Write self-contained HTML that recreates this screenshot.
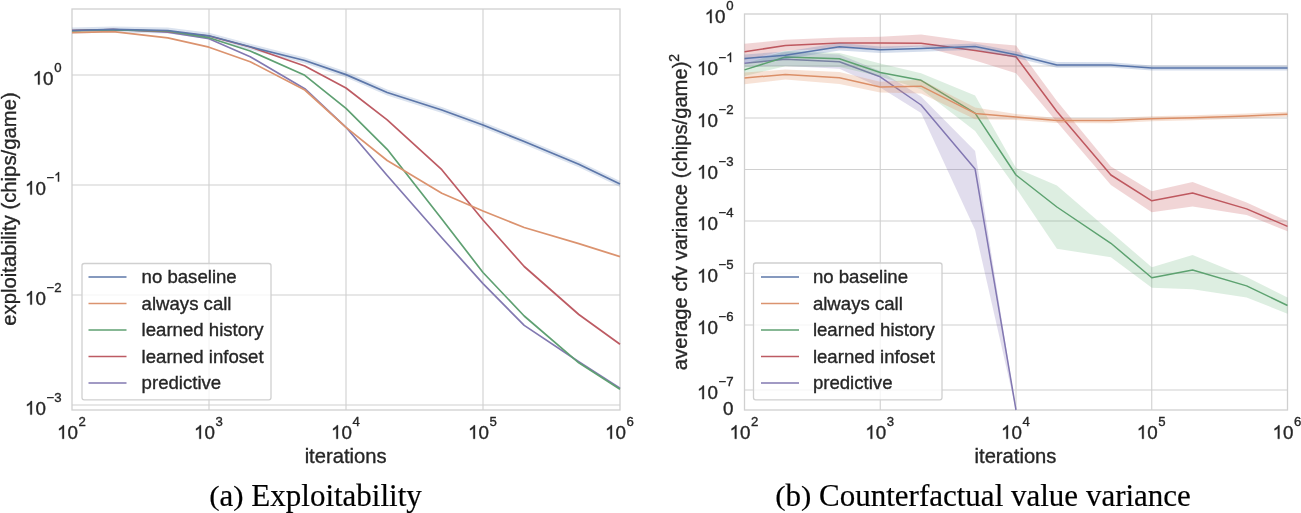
<!DOCTYPE html>
<html><head><meta charset="utf-8"><style>
html,body{margin:0;padding:0;background:#fff;}
body{width:1301px;height:513px;overflow:hidden;position:relative;}
svg{position:absolute;left:0;top:0;filter:blur(0.4px);}
text{font-family:"Liberation Sans",sans-serif;fill:#262626;stroke:#262626;stroke-width:0.35px;}
.serif{font-family:"Liberation Serif",serif;fill:#000;stroke:#000;stroke-width:0.2px;}
</style></head><body>
<svg width="1301" height="513" viewBox="0 0 1301 513">

<g id="left">
<g stroke="#d0d0d0" stroke-width="1.1"><line x1="209.0" y1="9" x2="209.0" y2="410"/><line x1="346.0" y1="9" x2="346.0" y2="410"/><line x1="483.0" y1="9" x2="483.0" y2="410"/><line x1="72" y1="75.0" x2="620" y2="75.0"/><line x1="72" y1="185.0" x2="620" y2="185.0"/><line x1="72" y1="295.0" x2="620" y2="295.0"/><line x1="72" y1="405.0" x2="620" y2="405.0"/></g>
<rect x="72" y="9" width="548" height="401" fill="none" stroke="#d0d0d0" stroke-width="1.3"/>
<polygon points="72.0,27.5 113.2,26.4 167.8,27.5 209.0,32.8 250.2,43.8 304.8,57.5 346.0,71.6 387.2,89.5 441.8,107.0 483.0,122.0 524.2,138.5 578.8,161.3 620.0,181.0 620.0,187.0 578.8,167.3 524.2,144.5 483.0,128.0 441.8,113.0 387.2,95.5 346.0,77.6 304.8,63.5 250.2,49.8 209.0,38.8 167.8,33.5 113.2,32.4 72.0,33.5" fill="#4c72b0" fill-opacity="0.2"/>
<polyline points="72.0,30.5 113.2,29.5 167.8,32.2 209.0,38.7 250.2,56.7 304.8,88.7 346.0,127.3 387.2,175.5 441.8,237.7 483.0,283.6 524.2,325.4 578.8,361.8 620.0,388.2" fill="none" stroke="#8279b1" stroke-width="1.7" stroke-linejoin="round"/>
<polyline points="72.0,30.5 113.2,29.5 167.8,31.5 209.0,36.0 250.2,47.0 304.8,66.0 346.0,88.0 387.2,119.8 441.8,169.7 483.0,220.0 524.2,266.5 578.8,314.5 620.0,344.2" fill="none" stroke="#bd5b63" stroke-width="1.7" stroke-linejoin="round"/>
<polyline points="72.0,30.8 113.2,30.0 167.8,31.0 209.0,37.7 250.2,51.0 304.8,75.3 346.0,108.3 387.2,149.3 441.8,219.0 483.0,272.5 524.2,316.0 578.8,362.8 620.0,389.2" fill="none" stroke="#5fa072" stroke-width="1.7" stroke-linejoin="round"/>
<polyline points="72.0,32.7 113.2,31.7 167.8,37.9 209.0,47.2 250.2,61.7 304.8,90.0 346.0,127.3 387.2,160.5 441.8,193.2 483.0,211.0 524.2,227.5 578.8,243.6 620.0,256.6" fill="none" stroke="#db936f" stroke-width="1.7" stroke-linejoin="round"/>
<polyline points="72.0,30.5 113.2,29.4 167.8,30.5 209.0,35.8 250.2,46.8 304.8,60.5 346.0,74.6 387.2,92.5 441.8,110.0 483.0,125.0 524.2,141.5 578.8,164.3 620.0,184.0" fill="none" stroke="#5d77a9" stroke-width="1.7" stroke-linejoin="round"/>
<path d="M763 0H583V1147Q518 1085 412.5 1023Q307 961 223 930V1104Q374 1175 487 1276Q600 1377 647 1472H763V0Z" transform="translate(32.65,84.60) scale(0.00918,-0.00918)" fill="#262626" stroke="#262626" stroke-width="38.1"/><text x="43.10" y="84.6" font-size="18.8">0</text><text x="54.16" y="71.6" font-size="13.2">0</text>
<path d="M763 0H583V1147Q518 1085 412.5 1023Q307 961 223 930V1104Q374 1175 487 1276Q600 1377 647 1472H763V0Z" transform="translate(24.94,194.60) scale(0.00918,-0.00918)" fill="#262626" stroke="#262626" stroke-width="38.1"/><text x="35.40" y="194.6" font-size="18.8">0</text><text x="46.45" y="181.6" font-size="13.2">−</text><path d="M763 0H583V1147Q518 1085 412.5 1023Q307 961 223 930V1104Q374 1175 487 1276Q600 1377 647 1472H763V0Z" transform="translate(54.16,181.60) scale(0.00645,-0.00645)" fill="#262626" stroke="#262626" stroke-width="54.3"/>
<path d="M763 0H583V1147Q518 1085 412.5 1023Q307 961 223 930V1104Q374 1175 487 1276Q600 1377 647 1472H763V0Z" transform="translate(24.94,304.60) scale(0.00918,-0.00918)" fill="#262626" stroke="#262626" stroke-width="38.1"/><text x="35.40" y="304.6" font-size="18.8">0</text><text x="46.45" y="291.6" font-size="13.2">−2</text>
<path d="M763 0H583V1147Q518 1085 412.5 1023Q307 961 223 930V1104Q374 1175 487 1276Q600 1377 647 1472H763V0Z" transform="translate(24.94,414.60) scale(0.00918,-0.00918)" fill="#262626" stroke="#262626" stroke-width="38.1"/><text x="35.40" y="414.6" font-size="18.8">0</text><text x="46.45" y="401.6" font-size="13.2">−3</text>
<path d="M763 0H583V1147Q518 1085 412.5 1023Q307 961 223 930V1104Q374 1175 487 1276Q600 1377 647 1472H763V0Z" transform="translate(56.98,438.80) scale(0.00918,-0.00918)" fill="#262626" stroke="#262626" stroke-width="38.1"/><text x="67.43" y="438.8" font-size="18.8">0</text><text x="78.48" y="425.8" font-size="13.2">2</text>
<path d="M763 0H583V1147Q518 1085 412.5 1023Q307 961 223 930V1104Q374 1175 487 1276Q600 1377 647 1472H763V0Z" transform="translate(193.98,438.80) scale(0.00918,-0.00918)" fill="#262626" stroke="#262626" stroke-width="38.1"/><text x="204.43" y="438.8" font-size="18.8">0</text><text x="215.48" y="425.8" font-size="13.2">3</text>
<path d="M763 0H583V1147Q518 1085 412.5 1023Q307 961 223 930V1104Q374 1175 487 1276Q600 1377 647 1472H763V0Z" transform="translate(330.98,438.80) scale(0.00918,-0.00918)" fill="#262626" stroke="#262626" stroke-width="38.1"/><text x="341.43" y="438.8" font-size="18.8">0</text><text x="352.48" y="425.8" font-size="13.2">4</text>
<path d="M763 0H583V1147Q518 1085 412.5 1023Q307 961 223 930V1104Q374 1175 487 1276Q600 1377 647 1472H763V0Z" transform="translate(467.98,438.80) scale(0.00918,-0.00918)" fill="#262626" stroke="#262626" stroke-width="38.1"/><text x="478.43" y="438.8" font-size="18.8">0</text><text x="489.48" y="425.8" font-size="13.2">5</text>
<path d="M763 0H583V1147Q518 1085 412.5 1023Q307 961 223 930V1104Q374 1175 487 1276Q600 1377 647 1472H763V0Z" transform="translate(604.98,438.80) scale(0.00918,-0.00918)" fill="#262626" stroke="#262626" stroke-width="38.1"/><text x="615.43" y="438.8" font-size="18.8">0</text><text x="626.48" y="425.8" font-size="13.2">6</text>
<text x="345.6" y="463.2" font-size="20.2" text-anchor="middle">iterations</text>
<text transform="translate(15.9,209) rotate(-90)" font-size="20.3" text-anchor="middle">exploitability (chips/game)</text>
</g>
<rect x="82.0" y="263.5" width="189.0" height="136.3" rx="2.2" ry="2.2" fill="#fff" fill-opacity="0.8" stroke="#d0d0d0" stroke-width="1.3"/><line x1="88.5" y1="277.0" x2="126.5" y2="277.0" stroke="#5d77a9" stroke-width="1.6"/><text x="141.6" y="283.1" font-size="18.6">no baseline</text><line x1="88.5" y1="303.5" x2="126.5" y2="303.5" stroke="#db936f" stroke-width="1.6"/><text x="141.6" y="309.6" font-size="18.6">always call</text><line x1="88.5" y1="330.0" x2="126.5" y2="330.0" stroke="#5fa072" stroke-width="1.6"/><text x="141.6" y="336.1" font-size="18.6">learned history</text><line x1="88.5" y1="356.5" x2="126.5" y2="356.5" stroke="#bd5b63" stroke-width="1.6"/><text x="141.6" y="362.6" font-size="18.6">learned infoset</text><line x1="88.5" y1="383.0" x2="126.5" y2="383.0" stroke="#8279b1" stroke-width="1.6"/><text x="141.6" y="389.1" font-size="18.6">predictive</text>
<g id="right">
<g stroke="#d0d0d0" stroke-width="1.1"><line x1="880.25" y1="14" x2="880.25" y2="410"/><line x1="1016.00" y1="14" x2="1016.00" y2="410"/><line x1="1151.75" y1="14" x2="1151.75" y2="410"/><line x1="744.5" y1="66.0" x2="1287.5" y2="66.0"/><line x1="744.5" y1="118.0" x2="1287.5" y2="118.0"/><line x1="744.5" y1="169.5" x2="1287.5" y2="169.5"/><line x1="744.5" y1="221.0" x2="1287.5" y2="221.0"/><line x1="744.5" y1="273.3" x2="1287.5" y2="273.3"/><line x1="744.5" y1="325.0" x2="1287.5" y2="325.0"/><line x1="744.5" y1="390.0" x2="1287.5" y2="390.0"/></g>
<rect x="744.5" y="14" width="543" height="396" fill="none" stroke="#d0d0d0" stroke-width="1.3"/>
<polyline points="744.5,63.2 785.4,59.3 839.4,61.8 880.2,76.8 921.1,105.0 975.1,169.0 1016.0,410.0" fill="none" stroke="#8279b1" stroke-width="1.5" stroke-linejoin="round"/>
<polygon points="744.5,59.0 785.4,52.0 839.4,54.6 880.2,71.0 921.1,96.5 975.1,151.0 1016.0,410.0 1016.0,410.0 975.1,230.0 921.1,113.0 880.2,87.5 839.4,68.7 785.4,66.0 744.5,67.0" fill="#8172b3" fill-opacity="0.24"/>
<polyline points="744.5,51.8 785.4,45.4 839.4,42.9 880.2,43.0 921.1,43.2 975.1,50.6 1016.0,56.8 1056.9,111.5 1110.9,175.0 1151.8,200.8 1192.6,193.0 1246.6,208.9 1287.5,226.4" fill="none" stroke="#bd5b63" stroke-width="1.5" stroke-linejoin="round"/>
<polygon points="744.5,43.7 785.4,39.8 839.4,37.5 880.2,36.7 921.1,34.6 975.1,42.0 1016.0,45.4 1056.9,101.0 1110.9,166.4 1151.8,191.2 1192.6,182.0 1246.6,202.5 1287.5,221.0 1287.5,231.2 1246.6,215.0 1192.6,206.5 1151.8,212.3 1110.9,185.0 1056.9,122.0 1016.0,73.2 975.1,60.4 921.1,46.4 880.2,48.4 839.4,48.5 785.4,50.7 744.5,60.1" fill="#c44e52" fill-opacity="0.24"/>
<polyline points="744.5,69.9 785.4,57.0 839.4,58.8 880.2,72.5 921.1,80.3 975.1,113.1 1016.0,175.0 1056.9,207.0 1110.9,243.3 1151.8,277.7 1192.6,270.0 1246.6,285.9 1287.5,305.5" fill="none" stroke="#5fa072" stroke-width="1.5" stroke-linejoin="round"/>
<polygon points="744.5,64.0 785.4,50.7 839.4,53.0 880.2,63.6 921.1,73.2 975.1,95.5 1016.0,168.0 1056.9,185.5 1110.9,231.9 1151.8,267.3 1192.6,255.0 1246.6,276.9 1287.5,297.4 1287.5,313.7 1246.6,297.4 1192.6,289.2 1151.8,287.8 1110.9,257.2 1056.9,248.8 1016.0,188.0 975.1,131.0 921.1,89.3 880.2,76.5 839.4,67.0 785.4,66.3 744.5,76.0" fill="#55a868" fill-opacity="0.2"/>
<polyline points="744.5,78.0 785.4,74.4 839.4,77.8 880.2,87.0 921.1,86.2 975.1,113.4 1016.0,117.0 1056.9,120.5 1110.9,120.6 1151.8,118.8 1192.6,117.7 1246.6,115.9 1287.5,114.2" fill="none" stroke="#db936f" stroke-width="1.5" stroke-linejoin="round"/>
<polygon points="744.5,72.6 785.4,69.5 839.4,72.0 880.2,81.8 921.1,79.7 975.1,107.5 1016.0,114.0 1056.9,118.0 1110.9,118.0 1151.8,116.3 1192.6,115.2 1246.6,113.4 1287.5,111.7 1287.5,116.7 1246.6,118.4 1192.6,120.2 1151.8,121.3 1110.9,123.2 1056.9,123.0 1016.0,120.0 975.1,119.3 921.1,93.6 880.2,92.5 839.4,84.0 785.4,79.6 744.5,84.3" fill="#dd8452" fill-opacity="0.24"/>
<polyline points="744.5,58.5 785.4,55.3 839.4,46.8 880.2,49.7 921.1,48.6 975.1,46.6 1016.0,54.8 1056.9,64.9 1110.9,64.9 1151.8,68.0 1192.6,68.0 1246.6,68.0 1287.5,68.0" fill="none" stroke="#5d77a9" stroke-width="1.5" stroke-linejoin="round"/>
<polygon points="744.5,54.5 785.4,51.5 839.4,43.0 880.2,46.5 921.1,45.5 975.1,43.5 1016.0,51.5 1056.9,62.0 1110.9,62.3 1151.8,65.5 1192.6,65.5 1246.6,65.5 1287.5,65.5 1287.5,70.5 1246.6,70.5 1192.6,70.5 1151.8,70.5 1110.9,67.5 1056.9,67.8 1016.0,58.0 975.1,49.7 921.1,51.7 880.2,53.0 839.4,50.5 785.4,59.0 744.5,62.5" fill="#4c72b0" fill-opacity="0.24"/>
<path d="M763 0H583V1147Q518 1085 412.5 1023Q307 961 223 930V1104Q374 1175 487 1276Q600 1377 647 1472H763V0Z" transform="translate(704.65,23.10) scale(0.00918,-0.00918)" fill="#262626" stroke="#262626" stroke-width="38.1"/><text x="715.10" y="23.1" font-size="18.8">0</text><text x="726.16" y="10.1" font-size="13.2">0</text>
<path d="M763 0H583V1147Q518 1085 412.5 1023Q307 961 223 930V1104Q374 1175 487 1276Q600 1377 647 1472H763V0Z" transform="translate(696.94,75.10) scale(0.00918,-0.00918)" fill="#262626" stroke="#262626" stroke-width="38.1"/><text x="707.40" y="75.1" font-size="18.8">0</text><text x="718.45" y="62.1" font-size="13.2">−</text><path d="M763 0H583V1147Q518 1085 412.5 1023Q307 961 223 930V1104Q374 1175 487 1276Q600 1377 647 1472H763V0Z" transform="translate(726.16,62.10) scale(0.00645,-0.00645)" fill="#262626" stroke="#262626" stroke-width="54.3"/>
<path d="M763 0H583V1147Q518 1085 412.5 1023Q307 961 223 930V1104Q374 1175 487 1276Q600 1377 647 1472H763V0Z" transform="translate(696.94,127.10) scale(0.00918,-0.00918)" fill="#262626" stroke="#262626" stroke-width="38.1"/><text x="707.40" y="127.1" font-size="18.8">0</text><text x="718.45" y="114.1" font-size="13.2">−2</text>
<path d="M763 0H583V1147Q518 1085 412.5 1023Q307 961 223 930V1104Q374 1175 487 1276Q600 1377 647 1472H763V0Z" transform="translate(696.94,178.60) scale(0.00918,-0.00918)" fill="#262626" stroke="#262626" stroke-width="38.1"/><text x="707.40" y="178.6" font-size="18.8">0</text><text x="718.45" y="165.6" font-size="13.2">−3</text>
<path d="M763 0H583V1147Q518 1085 412.5 1023Q307 961 223 930V1104Q374 1175 487 1276Q600 1377 647 1472H763V0Z" transform="translate(696.94,230.10) scale(0.00918,-0.00918)" fill="#262626" stroke="#262626" stroke-width="38.1"/><text x="707.40" y="230.1" font-size="18.8">0</text><text x="718.45" y="217.1" font-size="13.2">−4</text>
<path d="M763 0H583V1147Q518 1085 412.5 1023Q307 961 223 930V1104Q374 1175 487 1276Q600 1377 647 1472H763V0Z" transform="translate(696.94,282.40) scale(0.00918,-0.00918)" fill="#262626" stroke="#262626" stroke-width="38.1"/><text x="707.40" y="282.4" font-size="18.8">0</text><text x="718.45" y="269.4" font-size="13.2">−5</text>
<path d="M763 0H583V1147Q518 1085 412.5 1023Q307 961 223 930V1104Q374 1175 487 1276Q600 1377 647 1472H763V0Z" transform="translate(696.94,334.10) scale(0.00918,-0.00918)" fill="#262626" stroke="#262626" stroke-width="38.1"/><text x="707.40" y="334.1" font-size="18.8">0</text><text x="718.45" y="321.1" font-size="13.2">−6</text>
<path d="M763 0H583V1147Q518 1085 412.5 1023Q307 961 223 930V1104Q374 1175 487 1276Q600 1377 647 1472H763V0Z" transform="translate(696.94,399.10) scale(0.00918,-0.00918)" fill="#262626" stroke="#262626" stroke-width="38.1"/><text x="707.40" y="399.1" font-size="18.8">0</text><text x="718.45" y="386.1" font-size="13.2">−7</text>
<text x="733.5" y="415.2" font-size="18.8" text-anchor="end">0</text>
<path d="M763 0H583V1147Q518 1085 412.5 1023Q307 961 223 930V1104Q374 1175 487 1276Q600 1377 647 1472H763V0Z" transform="translate(729.48,438.80) scale(0.00918,-0.00918)" fill="#262626" stroke="#262626" stroke-width="38.1"/><text x="739.93" y="438.8" font-size="18.8">0</text><text x="750.98" y="425.8" font-size="13.2">2</text>
<path d="M763 0H583V1147Q518 1085 412.5 1023Q307 961 223 930V1104Q374 1175 487 1276Q600 1377 647 1472H763V0Z" transform="translate(865.23,438.80) scale(0.00918,-0.00918)" fill="#262626" stroke="#262626" stroke-width="38.1"/><text x="875.68" y="438.8" font-size="18.8">0</text><text x="886.73" y="425.8" font-size="13.2">3</text>
<path d="M763 0H583V1147Q518 1085 412.5 1023Q307 961 223 930V1104Q374 1175 487 1276Q600 1377 647 1472H763V0Z" transform="translate(1000.98,438.80) scale(0.00918,-0.00918)" fill="#262626" stroke="#262626" stroke-width="38.1"/><text x="1011.43" y="438.8" font-size="18.8">0</text><text x="1022.48" y="425.8" font-size="13.2">4</text>
<path d="M763 0H583V1147Q518 1085 412.5 1023Q307 961 223 930V1104Q374 1175 487 1276Q600 1377 647 1472H763V0Z" transform="translate(1136.73,438.80) scale(0.00918,-0.00918)" fill="#262626" stroke="#262626" stroke-width="38.1"/><text x="1147.18" y="438.8" font-size="18.8">0</text><text x="1158.23" y="425.8" font-size="13.2">5</text>
<path d="M763 0H583V1147Q518 1085 412.5 1023Q307 961 223 930V1104Q374 1175 487 1276Q600 1377 647 1472H763V0Z" transform="translate(1272.48,438.80) scale(0.00918,-0.00918)" fill="#262626" stroke="#262626" stroke-width="38.1"/><text x="1282.93" y="438.8" font-size="18.8">0</text><text x="1293.98" y="425.8" font-size="13.2">6</text>
<text x="1015.5" y="463.2" font-size="20.2" text-anchor="middle">iterations</text>
<text transform="translate(686.5,212) rotate(-90)" font-size="20.2" text-anchor="middle">average cfv variance (chips/game)<tspan font-size="14" dy="-8">2</tspan></text>
</g>
<rect x="753.5" y="263.0" width="188.5" height="136.8" rx="2.2" ry="2.2" fill="#fff" fill-opacity="0.8" stroke="#d0d0d0" stroke-width="1.3"/><line x1="761.0" y1="277.0" x2="799.0" y2="277.0" stroke="#5d77a9" stroke-width="1.6"/><text x="812.9" y="283.1" font-size="18.6">no baseline</text><line x1="761.0" y1="303.5" x2="799.0" y2="303.5" stroke="#db936f" stroke-width="1.6"/><text x="812.9" y="309.6" font-size="18.6">always call</text><line x1="761.0" y1="330.0" x2="799.0" y2="330.0" stroke="#5fa072" stroke-width="1.6"/><text x="812.9" y="336.1" font-size="18.6">learned history</text><line x1="761.0" y1="356.5" x2="799.0" y2="356.5" stroke="#bd5b63" stroke-width="1.6"/><text x="812.9" y="362.6" font-size="18.6">learned infoset</text><line x1="761.0" y1="383.0" x2="799.0" y2="383.0" stroke="#8279b1" stroke-width="1.6"/><text x="812.9" y="389.1" font-size="18.6">predictive</text>
<text class="serif" x="209.18" y="506.0" font-size="31" transform="translate(0,498.00) scale(1,0.880) translate(0,-498.00)">(</text><text class="serif" x="219.50" y="506.0" font-size="31">a</text><text class="serif" x="233.26" y="506.0" font-size="31" transform="translate(0,498.00) scale(1,0.880) translate(0,-498.00)">)</text><text class="serif" x="243.59" y="506.0" font-size="31" xml:space="preserve"> Exploitability</text>
<text class="serif" x="775.15" y="506.0" font-size="31" transform="translate(0,498.00) scale(1,0.880) translate(0,-498.00)">(</text><text class="serif" x="785.47" y="506.0" font-size="31">b</text><text class="serif" x="800.97" y="506.0" font-size="31" transform="translate(0,498.00) scale(1,0.880) translate(0,-498.00)">)</text><text class="serif" x="811.30" y="506.0" font-size="31" xml:space="preserve"> Counterfactual value variance</text>
</svg></body></html>
